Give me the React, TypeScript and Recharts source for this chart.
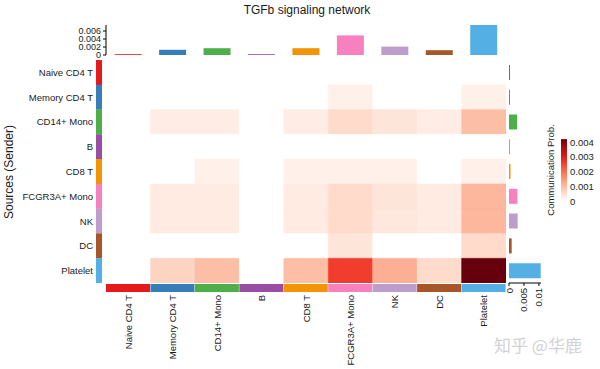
import React from 'react';
import { BarChart, Bar, XAxis, YAxis, Cell } from 'recharts';

const cellTypes = ['Naive CD4 T', 'Memory CD4 T', 'CD14+ Mono', 'B', 'CD8 T', 'FCGR3A+ Mono', 'NK', 'DC', 'Platelet'];
const typeColors = ['#E41A1C', '#377EB8', '#4DAF4A', '#984EA3', '#F29403', '#F781BF', '#BC9DCC', '#A65628', '#54B0E4'];

// communication prob, rows = senders, columns = receivers (same order as cellTypes)
const fromNaive = [0, 0, 0, 0, 0, 0, 0, 0, 0];
const fromMemory = [0, 0, 0, 0, 0, 0.0001, 0, 0, 0.0001];
const fromCD14 = [0, 0.0002, 0.0002, 0, 0.0002, 0.0006, 0.0004, 0.0002, 0.001];
const fromB = [0, 0, 0, 0, 0, 0, 0, 0, 0];
const fromCD8 = [0, 0, 0.0001, 0, 0.0001, 0.0001, 0.0001, 0, 0.00012];
const fromFCGR3A = [0, 0.00025, 0.00025, 0, 0.00025, 0.0006, 0.0004, 0.00025, 0.0011];
const fromNK = [0, 0.00025, 0.00025, 0, 0.00025, 0.0006, 0.00035, 0.00025, 0.0011];
const fromDC = [0, 0, 0, 0, 0, 0.0004, 0, 0, 0.0006];
const fromPlatelet = [0, 0.0007, 0.001, 0, 0.001, 0.0026, 0.0012, 0.0006, 0.0042];
const probMatrix = [fromNaive, fromMemory, fromCD14, fromB, fromCD8, fromFCGR3A, fromNK, fromDC, fromPlatelet];

// bar annotations
const incomingTotals = [0.0002, 0.0013, 0.0017, 0.0002, 0.0017, 0.0049, 0.0021, 0.0012, 0.0075];
const outgoingTotals = [0.0003, 0.0003, 0.0027, 0.0002, 0.0005, 0.0028, 0.0029, 0.0009, 0.0106];

const topTicks = [0, 0.002, 0.004, 0.006];
const rightTicks = [0, 0.005, 0.01];
const legendTicks = [0, 0.001, 0.002, 0.003, 0.004];
const probMax = 0.0042;

const reds = ['#FFF5F0', '#FEE0D2', '#FCBBA1', '#FC9272', '#FB6A4A', '#EF3B2C', '#CB181D', '#A50F15', '#67000D'];

const FONT = '"Liberation Sans", Arial, sans-serif';
const TXT = '#1a1a1a';

function hexToRgb(h: string) {
  const n = parseInt(h.slice(1), 16);
  return [(n >> 16) & 255, (n >> 8) & 255, n & 255];
}

function heatColor(v: number) {
  if (v <= 0) return '#FFFFFF';
  const t = Math.min(v / probMax, 1) * (reds.length - 1);
  const i = Math.min(Math.floor(t), reds.length - 2);
  const f = t - i;
  const a = hexToRgb(reds[i]);
  const b = hexToRgb(reds[i + 1]);
  const c = a.map((x, k) => Math.round(x + (b[k] - x) * f));
  return `rgb(${c[0]},${c[1]},${c[2]})`;
}

const topData = cellTypes.map((name, i) => ({ name, value: incomingTotals[i] }));
const rightData = cellTypes.map((name, i) => ({ name, value: outgoingTotals[i] }));
const stripData = cellTypes.map((name) => ({ name, span: 1 }));
const heatData = cellTypes.map((sender) => {
  const row: Record<string, any> = { sender };
  cellTypes.forEach((_, j) => { row['c' + j] = 1; });
  return row;
});

const VerticalTick = (props: any) => {
  const { x, y, payload } = props;
  return (
    <text x={x} y={y} transform={`rotate(-90 ${x} ${y})`} textAnchor="end" dominantBaseline="central"
      fontSize={9.5} fill={TXT} fontFamily={FONT}>
      {String(payload.value)}
    </text>
  );
};

const LeftTick = (props: any) => {
  const { x, y, payload } = props;
  return (
    <text x={x} y={y} textAnchor="end" dominantBaseline="central" fontSize={props.size || 9.5} fill={TXT} fontFamily={FONT}>
      {String(payload.value)}
    </text>
  );
};

const abs = (left: number, top: number): React.CSSProperties => ({ position: 'absolute', left, top });

export default function App() {
  const legendY = (v: number) => 201.5 - (v / 0.004) * 59.4;
  return (
    <div style={{ position: 'absolute', left: 0, top: 0, width: 600, height: 369, background: '#fff', fontFamily: FONT, overflow: 'hidden' }}>
      {/* top bars: incoming */}
      <div style={abs(0, 15)}>
        <BarChart width={506} height={45} data={topData} margin={{ top: 10, right: 0, bottom: 5, left: 0 }} barCategoryGap="19.5%">
          <XAxis dataKey="name" hide />
          <YAxis type="number" domain={[0, 0.0075]} ticks={topTicks} interval={0} width={106}
            tickSize={3} tickMargin={2} axisLine={{ stroke: '#000' }} tickLine={{ stroke: '#000' }}
            tick={<LeftTick size={9} />} />
          <Bar dataKey="value" isAnimationActive={false}>
            {topData.map((_, i) => <Cell key={i} fill={typeColors[i]} />)}
          </Bar>
        </BarChart>
      </div>

      {/* left color strip */}
      <div style={abs(96, 60)}>
        <BarChart width={6} height={223} data={stripData} layout="vertical" margin={{ top: 0, right: 0, bottom: 0, left: 0 }} barCategoryGap={0}>
          <XAxis type="number" domain={[0, 1]} hide />
          <YAxis type="category" dataKey="name" hide />
          <Bar dataKey="span" isAnimationActive={false}>
            {stripData.map((_, i) => <Cell key={i} fill={typeColors[i]} />)}
          </Bar>
        </BarChart>
      </div>

      {/* heatmap */}
      <div style={abs(0, 60)}>
        <BarChart width={506} height={223} data={heatData} layout="vertical" margin={{ top: 0, right: 0, bottom: 0, left: 0 }} barCategoryGap={0}>
          <XAxis type="number" domain={[0, 9]} hide />
          <YAxis type="category" dataKey="sender" width={106} interval={0} tickSize={0} tickMargin={13}
            axisLine={false} tickLine={false} tick={<LeftTick />} />
          {cellTypes.map((_, j) => (
            <Bar key={j} dataKey={'c' + j} stackId="h" isAnimationActive={false}>
              {cellTypes.map((__, i) => {
                const c = heatColor(probMatrix[i][j]);
                return <Cell key={i} fill={c} stroke={c} strokeWidth={0.4} />;
              })}
            </Bar>
          ))}
        </BarChart>
      </div>

      {/* bottom color strip + receiver labels */}
      <div style={abs(106, 284)}>
        <BarChart width={400} height={85} data={stripData} margin={{ top: 0, right: 0, bottom: 0, left: 0 }} barCategoryGap={0}>
          <XAxis dataKey="name" height={77} interval={0} tickSize={0} tickMargin={3} axisLine={false} tickLine={false} tick={<VerticalTick />} />
          <YAxis type="number" domain={[0, 1]} hide />
          <Bar dataKey="span" isAnimationActive={false}>
            {stripData.map((_, i) => <Cell key={i} fill={typeColors[i]} />)}
          </Bar>
        </BarChart>
      </div>

      {/* right bars: outgoing */}
      <div style={abs(501, 60)}>
        <BarChart width={52} height={260} data={rightData} layout="vertical" margin={{ top: 0, right: 12, bottom: 0, left: 8 }} barCategoryGap="20%">
          <XAxis type="number" domain={[0, 0.0107]} ticks={rightTicks} interval={0} height={37} tickSize={3} tickMargin={2}
            axisLine={{ stroke: '#000' }} tickLine={{ stroke: '#000' }} tick={<VerticalTick />} />
          <YAxis type="category" dataKey="name" hide />
          <Bar dataKey="value" isAnimationActive={false}>
            {rightData.map((_, i) => <Cell key={i} fill={typeColors[i]} />)}
          </Bar>
        </BarChart>
      </div>

      {/* text, legend */}
      <svg width={600} height={369} style={{ position: 'absolute', left: 0, top: 0, pointerEvents: 'none' }}>
        <defs>
          <linearGradient id="probGrad" x1="0" y1="1" x2="0" y2="0">
            {reds.map((c, i) => <stop key={i} offset={i / (reds.length - 1)} stopColor={i === 0 ? '#FFFFFF' : c} />)}
          </linearGradient>
        </defs>
        <text x={307} y={14} textAnchor="middle" fontSize={12} fill={TXT} fontFamily={FONT}>TGFb signaling network</text>
        <text x={13} y={172} transform="rotate(-90 13 172)" textAnchor="middle" fontSize={12} fill={TXT} fontFamily={FONT}>Sources (Sender)</text>
        <rect x={561} y={legendY(probMax)} width={6} height={legendY(0) - legendY(probMax)} fill="url(#probGrad)" />
        {legendTicks.map((v) => (
          <text key={v} x={570} y={legendY(v)} dominantBaseline="central" fontSize={9.5} fill={TXT} fontFamily={FONT}>{String(v)}</text>
        ))}
        <text x={554} y={170} transform="rotate(-90 554 170)" textAnchor="middle" fontSize={9.5} fill={TXT} fontFamily={FONT}>Communication Prob.</text>
        <text x={538} y={352} textAnchor="middle" fontSize={17} fill="#d2d2d2" fontFamily='"Noto Sans CJK SC", sans-serif'>知乎 @华鹿</text>
      </svg>
    </div>
  );
}
